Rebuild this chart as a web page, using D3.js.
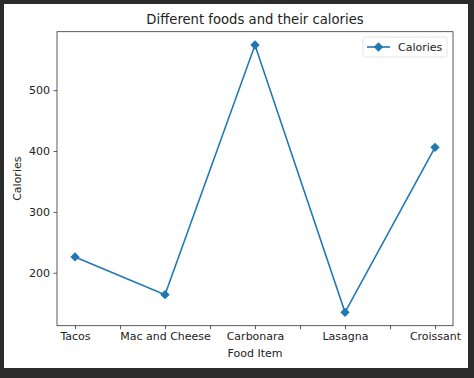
<!DOCTYPE html>
<html>
<head>
<meta charset="utf-8">
<script src="https://cdn.jsdelivr.net/npm/d3@7"></script>
<style>
  body { margin: 0; background: #2b2b2b; }
  svg { display: block; }
</style>
</head>
<body>
<div id="chart"></div>
<script>
// data
const foods = ["Tacos", "Mac and Cheese", "Carbonara", "Lasagna", "Croissant"];
const calories = [226, 164, 574, 135, 406];
const yTicks = [200, 300, 400, 500];

const width = 474, height = 378;
const margin = { top: 31.7, right: 21, bottom: 52.3, left: 57 };
const color = "#1f77b4";
const font = "DejaVu Sans, sans-serif";
const fs = "11px";

const svg = d3.select("#chart").append("svg")
    .attr("width", width)
    .attr("height", height);

// dark screenshot frame + white figure
svg.append("rect").attr("width", width).attr("height", height).attr("fill", "#2b2b2b");
svg.append("rect").attr("x", 4).attr("y", 4).attr("width", 464).attr("height", 364).attr("fill", "#fff");

// matplotlib style 5% margins
const lo = d3.min(calories), hi = d3.max(calories), pad = (hi - lo) * 0.05;
const x = d3.scaleLinear().domain([-0.2, foods.length - 1 + 0.2]).range([margin.left, width - margin.right]);
const y = d3.scaleLinear().domain([lo - pad, hi + pad]).range([height - margin.bottom, margin.top]);

const g = svg.append("g").style("font-family", font);

// x axis: ticks every half step, labels only on whole steps
const xTickVals = d3.range(0, foods.length - 0.5 + 0.01, 0.5);
const xAxis = g.append("g")
    .attr("transform", `translate(0,${height - margin.bottom})`)
    .call(d3.axisBottom(x).tickValues(xTickVals).tickSize(3.5).tickPadding(3.5)
      .tickFormat(d => Number.isInteger(d) ? foods[d] : ""));

const yAxis = g.append("g")
    .attr("transform", `translate(${margin.left},0)`)
    .call(d3.axisLeft(y).tickValues(yTicks).tickSize(3.5).tickPadding(3.5));

[xAxis, yAxis].forEach(a => {
  a.select(".domain").remove();
  a.selectAll("line").attr("stroke", "#333").attr("stroke-width", 0.8);
  a.selectAll("text").attr("fill", "#222").style("font-size", fs).style("font-family", font);
});

// frame
g.append("rect")
    .attr("x", margin.left).attr("y", margin.top)
    .attr("width", width - margin.left - margin.right)
    .attr("height", height - margin.top - margin.bottom)
    .attr("fill", "none").attr("stroke", "#333").attr("stroke-width", 0.8);

// line + diamond markers
const line = d3.line().x((d, i) => x(i)).y(d => y(d));
g.append("path")
    .datum(calories)
    .attr("d", line)
    .attr("fill", "none")
    .attr("stroke", color)
    .attr("stroke-width", 1.6);

const diamond = d3.symbol().type(d3.symbolSquare).size(44);
g.selectAll(".mark")
  .data(calories)
  .join("path")
    .attr("class", "mark")
    .attr("d", diamond)
    .attr("transform", (d, i) => `translate(${x(i)},${y(d)}) rotate(45)`)
    .attr("fill", color);

// title and axis labels
g.append("text")
    .attr("x", (margin.left + width - margin.right) / 2).attr("y", 24)
    .attr("text-anchor", "middle").attr("fill", "#222")
    .style("font-size", "13.2px")
    .text("Different foods and their calories");

g.append("text")
    .attr("x", (margin.left + width - margin.right) / 2).attr("y", 357)
    .attr("text-anchor", "middle").attr("fill", "#222")
    .style("font-size", fs)
    .text("Food Item");

g.append("text")
    .attr("transform", `translate(21,${(margin.top + height - margin.bottom) / 2}) rotate(-90)`)
    .attr("text-anchor", "middle").attr("fill", "#222")
    .style("font-size", fs)
    .text("Calories");

// legend
const lg = g.append("g").attr("transform", "translate(363,37)");
lg.append("rect").attr("width", 84).attr("height", 20).attr("rx", 2)
    .attr("fill", "#fff").attr("stroke", "#ddd").attr("stroke-width", 0.8);
lg.append("line").attr("x1", 4).attr("x2", 27).attr("y1", 10).attr("y2", 10)
    .attr("stroke", color).attr("stroke-width", 1.6);
lg.append("path").attr("d", diamond).attr("transform", "translate(15.5,10) rotate(45)").attr("fill", color);
lg.append("text").attr("x", 35).attr("y", 14).attr("fill", "#222")
    .style("font-size", fs).text("Calories");
</script>
</body>
</html>
